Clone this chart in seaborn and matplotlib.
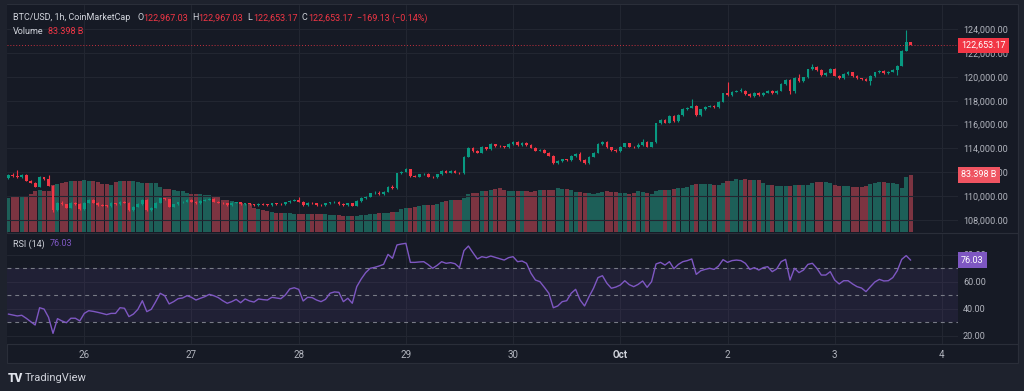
import numpy as np
import pandas as pd
import matplotlib
matplotlib.use("Agg")
import matplotlib.pyplot as plt
import seaborn as sns
from matplotlib.patches import Rectangle
from matplotlib.lines import Line2D
from matplotlib.transforms import blended_transform_factory

# ---- data (BTC/USD 1h, CoinMarketCap) ----
start_time = "2025-09-25 07:00"
first_open = 111500

closes = [
    111780, 111700, 111580, 111775, 111300, 111132, 110796, 111580, 111412, 110880,
    108839, 109454, 109314, 109034, 109454, 109342, 108923, 109454, 109678, 109454,
    109258, 109202, 109180, 109398, 109314, 109538, 109454, 108839, 109118, 109342,
    109678, 108839, 109034, 109454, 109818, 109734, 109118, 109314, 109482, 109538,
    109678, 109538, 109398, 109622, 109700, 109750, 109538, 109454, 109398, 109258,
    109454, 109482, 109342,
    109397, 109313, 109229, 109341, 109300, 109257, 109397, 109341, 109313, 109481,
    109621, 109677, 109537, 109257, 109453, 109397, 109257, 109230, 109397, 109481,
    109500, 109341, 109257, 109397, 109201, 109593, 109817, 109957, 110237, 110293,
    110180, 110377, 110796, 110656, 111915, 112055, 112250, 111691, 111635, 111831,
    111859, 111635, 111579, 111831, 112138, 111971, 112110, 111971, 111915, 113313,
    114069,
    113788, 113648, 114096, 113956, 114347, 114208, 114180, 114096, 114375, 114571,
    114292, 114487, 114292, 114068, 113816, 113900, 113648, 113397, 112753, 112949,
    113089, 113033, 113369, 113536, 113033, 112753, 113313, 113648, 114375, 114571,
    114096, 113872, 113800, 114152, 114431, 114152, 114096, 114292, 114571, 114152,
    114515, 116110, 116389, 116166, 116725, 116306, 116809, 117312, 117424, 117592,
    116809, 117284, 117508, 117592,
    117452, 117928, 118626, 118487, 118766, 118822, 118850, 118571, 118403, 118682,
    118487, 118682, 118850, 118626, 118850, 119410, 119745, 118822, 119941, 119661,
    119969, 120640, 120864, 120584, 120165, 120361, 120668, 120109, 119885, 120249,
    120388, 120081, 119885, 119829, 119689, 120081, 120388, 120528, 120305, 120444,
    120584, 120948, 122207, 122967.03, 122653.17,
]

upper_wick = [
    60, 200, 500, 80, 60, 60, 60, 80, 60, 330,
    80, 60, 150, 60, 80, 60, 60, 60, 80, 60,
    60, 60, 60, 80, 60, 60, 60, 60, 60, 60,
    80, 60, 60, 60, 60, 60, 60, 60, 60, 60,
    60, 60, 60, 60, 60, 60, 60, 60, 60, 60,
    60, 60, 60, 60, 60, 60, 60, 60, 60, 60,
    60, 60, 60, 60, 60, 280, 60, 60, 60, 60,
    60, 60, 60, 60, 60, 60, 60, 60, 60, 80,
    60, 60, 150, 120, 60, 80, 100, 60, 80, 80,
    60, 60, 60, 60, 60, 60, 60, 60, 60, 60,
    60, 60, 60, 80, 80, 80, 80, 60, 80, 60,
    60, 60, 60, 60, 60, 60, 60, 60, 60, 60,
    60, 60, 60, 60, 60, 60, 60, 60, 200, 60,
    60, 60, 60, 60, 60, 60, 60, 60, 60, 60,
    60, 150, 200, 60, 60, 60, 60, 60, 60, 60,
    60, 60, 60, 530, 80, 60, 60, 60, 60, 60,
    60, 920, 60, 60, 200, 80, 60, 60, 60, 60,
    60, 60, 60, 60, 80, 60, 60, 270, 60, 60,
    200, 60, 60, 60, 60, 60, 60, 60, 80, 60,
    60, 60, 60, 60, 60, 60, 60, 60, 100, 60,
    80, 975, 0,
]

lower_wick = [
    60, 60, 60, 60, 60, 60, 60, 60, 60, 60,
    150, 60, 60, 60, 60, 60, 60, 60, 60, 60,
    60, 60, 60, 60, 60, 60, 60, 60, 60, 60,
    60, 60, 60, 60, 60, 60, 60, 60, 60, 60,
    60, 60, 60, 60, 60, 60, 60, 60, 60, 60,
    60, 60, 60, 60, 60, 60, 60, 60, 60, 60,
    60, 60, 60, 60, 60, 60, 60, 60, 60, 60,
    60, 60, 60, 60, 60, 60, 60, 60, 60, 60,
    60, 60, 60, 60, 60, 60, 60, 60, 60, 60,
    60, 60, 60, 60, 60, 60, 60, 60, 60, 60,
    60, 60, 60, 60, 60, 60, 60, 60, 60, 60,
    60, 60, 60, 60, 60, 60, 60, 60, 60, 60,
    60, 60, 80, 60, 60, 60, 60, 60, 60, 60,
    60, 60, 60, 60, 60, 60, 60, 60, 60, 60,
    60, 60, 60, 60, 60, 60, 60, 60, 60, 60,
    60, 60, 60, 60, 80, 60, 60, 60, 60, 60,
    60, 60, 60, 60, 60, 60, 60, 60, 60, 60,
    60, 60, 60, 60, 60, 250, 200, 60, 60, 60,
    60, 100, 60, 60, 60, 60, 60, 60, 60, 60,
    60, 60, 60, 360, 60, 60, 60, 60, 60, 420,
    60, 60, 0,
]

volume_b = [
    50.4, 51.4, 53.4, 53.4, 53.4, 54.9, 59.8, 60.8, 59.8, 59.8,
    68.6, 69.6, 72.1, 73.5, 74.0, 74.0, 74.5, 76.0, 75.0, 74.0,
    73.0, 70.6, 69.6, 68.6, 73.0, 74.0, 74.0, 74.0, 74.0, 73.0,
    72.1, 72.1, 71.1, 71.1, 65.2, 62.7, 62.2, 60.8, 60.3, 59.8,
    57.3, 56.3, 55.3, 54.9, 53.9, 53.9, 52.4, 50.9, 46.5, 46.5,
    45.5, 44.0, 42.5,
    41.6, 41.6, 35.7, 34.2, 32.7, 30.8, 29.3, 28.3, 27.8, 27.8,
    27.8, 26.8, 26.8, 26.8, 25.8, 25.8, 25.8, 25.8, 25.8, 24.8,
    24.8, 24.4, 23.4, 23.9, 23.4, 22.9, 24.4, 25.3, 25.8, 26.8,
    27.3, 27.8, 27.8, 29.3, 29.3, 33.7, 34.7, 35.7, 36.7, 37.6,
    39.1, 40.1, 40.1, 41.6, 43.5, 46.0, 46.5, 46.5, 47.5, 50.4,
    56.3,
    57.3, 57.3, 59.3, 60.3, 61.3, 62.7, 63.7, 61.3, 60.3, 60.3,
    60.3, 60.3, 59.8, 58.8, 60.3, 61.8, 61.3, 61.3, 61.8, 63.7,
    62.7, 62.2, 60.8, 58.3, 58.3, 57.3, 57.3, 56.3, 57.3, 57.8,
    59.8, 58.8, 58.8, 57.3, 56.8, 56.3, 57.3, 59.3, 58.3, 57.3,
    56.3, 59.8, 61.8, 61.3, 61.8, 62.2, 63.7, 63.7, 66.2, 69.1,
    70.1, 70.1, 70.6, 70.6,
    69.1, 69.1, 71.1, 75.0, 75.0, 77.0, 76.0, 77.0, 76.0, 76.0,
    76.0, 71.1, 68.6, 68.1, 67.2, 66.7, 66.7, 67.2, 68.1, 69.1,
    68.1, 68.1, 71.6, 72.6, 72.6, 73.6, 71.1, 68.6, 67.6, 66.7,
    66.7, 65.7, 65.7, 65.7, 67.6, 70.1, 71.6, 72.6, 73.1, 71.6,
    71.1, 70.1, 64.7, 80.9, 83.398,
]

rsi_values = [
    36.1, 35.4, 34.7, 35.2, 33.0, 30.5, 28.0, 40.8, 39.8, 33.7,
    21.8, 32.7, 31.0, 29.7, 33.0, 33.0, 31.0, 36.6, 38.6, 38.1,
    37.4, 36.6, 35.7, 36.6, 36.6, 40.8, 40.4, 34.2, 36.1, 39.6,
    46.0, 37.9, 39.6, 45.3, 51.5, 49.7, 43.6, 45.3, 47.5, 48.0,
    49.7, 48.5, 46.5, 47.8, 49.0, 50.7, 49.7, 48.3, 46.0, 44.1,
    45.3, 47.0, 44.5, 47.3, 45.8, 45.0, 47.3, 46.8, 46.5, 48.5,
    48.0, 47.5, 50.2, 54.7, 55.6, 54.4, 45.8, 48.5, 48.3, 46.5,
    45.3, 47.0, 51.5, 52.5, 52.2, 45.3, 47.8, 44.1, 56.4, 62.1,
    66.8, 70.0, 70.7, 71.7, 72.9, 80.3, 77.4, 87.3, 88.0, 88.5,
    74.4, 74.4, 74.7, 74.9, 72.7, 70.0, 72.2, 74.9, 73.7, 74.2,
    73.4, 70.5, 83.1, 86.5, 81.6, 76.9, 78.6, 77.9, 79.1, 78.1,
    77.1, 76.1, 77.9, 78.6, 74.9, 75.4, 73.7, 66.3, 61.3, 60.1,
    55.9, 51.5, 40.8, 42.1, 45.3, 46.0, 51.5, 54.4, 46.5, 42.1,
    49.0, 55.2, 63.1, 64.5, 58.9, 55.2, 56.1, 57.6, 60.8, 57.9,
    56.4, 58.1, 60.6, 55.9, 60.1, 73.2, 74.4, 72.4, 74.9, 69.7,
    72.9, 74.9, 75.7, 76.9, 65.5, 68.2, 69.2, 70.0, 69.2, 71.7,
    76.4, 74.4, 75.7, 76.1, 75.7, 73.7, 69.2, 70.5, 68.7, 70.5,
    71.2, 67.5, 69.5, 74.9, 76.6, 61.3, 70.0, 66.8, 68.7, 72.9,
    73.7, 70.0, 65.0, 65.0, 67.5, 61.3, 58.4, 60.8, 60.8, 58.4,
    56.4, 55.4, 52.7, 56.4, 59.9, 61.8, 60.6, 60.8, 63.1, 68.2,
    76.6, 79.4, 76.03,
]

price_ticks = [108000, 110000, 112000, 114000, 116000, 118000, 120000, 122000, 124000]
rsi_ticks = [20, 40, 60, 80]
rsi_levels = [70, 50, 30]
day_dates = pd.date_range("2025-09-26", "2025-10-04", freq="D")

# ---- colours ----
BG = "#161a25"
OUTER = "#1e222d"
GRID = "#222631"
SEP = "#2a2e39"
TXT = "#b2b5be"
TITLE = "#d1d4dc"
UP = "#089981"
DOWN = "#f23645"
VOL_UP = "#1d5f58"
VOL_DOWN = "#7c3441"
RSI_C = "#7e57c2"

sns.set_theme(style="dark", rc={"axes.facecolor": BG, "figure.facecolor": OUTER,
                                "axes.edgecolor": BG, "text.color": TXT})
plt.rcParams["font.family"] = ["Roboto", "DejaVu Sans"]
FS = 6.5

n = len(closes)
times = pd.date_range(start_time, periods=n, freq="h")
opens = [first_open] + closes[:-1]
df = pd.DataFrame({"x": np.arange(n), "open": opens, "close": closes,
                   "volume": volume_b, "rsi": rsi_values})
df["up"] = df["close"] >= df["open"]
df["direction"] = np.where(df["up"], "up", "down")
df["high"] = df[["open", "close"]].max(axis=1) + np.array(upper_wick)
df["low"] = df[["open", "close"]].min(axis=1) - np.array(lower_wick)

day_pos = (day_dates - times[0]) / pd.Timedelta(hours=1)
day_labels = ["Oct" if d.day == 1 else str(d.day) for d in day_dates]

W, H = 1024, 391
def fx(px): return px / W
def fy(py): return 1 - py / H

fig = plt.figure(figsize=(W / 100, H / 100), dpi=100)
fig.add_artist(Rectangle((fx(7), fy(363)), fx(1018) - fx(7), fy(4) - fy(363),
                         transform=fig.transFigure, facecolor=BG, edgecolor=SEP,
                         lw=0.8, zorder=-5))

x_lo, x_hi = -0.3, 212.6
left, width = fx(7), fx(958) - fx(7)

# ---- main pane: volume underneath, candles on top ----
ax_vol = fig.add_axes([left, fy(232), width, fy(5) - fy(232)])
sns.barplot(data=df, x="x", y="volume", hue="direction",
            palette={"up": VOL_UP, "down": VOL_DOWN}, native_scale=True,
            dodge=False, width=0.9, saturation=1, errorbar=None, legend=False,
            linewidth=0, ax=ax_vol)
ax_vol.set_ylim(0, 83.398 * 227 / 57)
ax_vol.set_xlabel("")
ax_vol.set_ylabel("")
ax_vol.set_yticks([])
ax_vol.set_xticks(day_pos)
ax_vol.tick_params(axis="x", length=0, labelbottom=False)
ax_vol.grid(axis="x", color=GRID, lw=0.8)
for s in ax_vol.spines.values():
    s.set_visible(False)

ax_p = ax_vol.twinx()
ax_p.patch.set_visible(False)
colors = np.where(df["up"], UP, DOWN)
ax_p.vlines(df["x"], df["low"], df["high"], colors=colors, lw=0.8)
body_h = np.maximum((df["close"] - df["open"]).abs(), 70)
body_b = df[["open", "close"]].min(axis=1)
ax_p.bar(df["x"], body_h, bottom=body_b, width=0.62, color=colors, linewidth=0)
ax_p.set_ylim(124000 - (232 - 29.3) * 83.9, 124000 + (29.3 - 5) * 83.9)
ax_p.set_xlim(x_lo, x_hi)
ax_p.set_yticks(price_ticks)
ax_p.set_yticklabels([f"{v:,.2f}" for v in price_ticks])
ax_p.tick_params(axis="y", length=0, pad=3.6, labelsize=FS, labelcolor=TXT)
ax_p.grid(axis="y", color=GRID, lw=0.8)
ax_p.grid(axis="x", visible=False)
for s in ax_p.spines.values():
    s.set_visible(False)
last = closes[-1]
ax_p.axhline(last, color=DOWN, lw=0.7, ls=(0, (1, 2)), alpha=0.8)
ax_p.annotate(f"{last:,.2f}", xy=(1, last), xycoords=ax_p.get_yaxis_transform(),
              xytext=(2.2, 0), textcoords="offset points", ha="left", va="center",
              color="white", fontsize=FS, zorder=10, annotation_clip=False,
              bbox=dict(boxstyle="square,pad=0.35", fc=DOWN, ec="none"))
ax_p.annotate("83.398 B", xy=(1, volume_b[-1]),
              xycoords=blended_transform_factory(ax_p.transAxes, ax_vol.transData),
              xytext=(2.2, 0), textcoords="offset points", ha="left", va="center",
              color="white", fontsize=FS, zorder=10, annotation_clip=False,
              bbox=dict(boxstyle="square,pad=0.35", fc="#ef5461", ec="none"))
ax_vol.set_xlim(x_lo, x_hi)

# ---- RSI pane ----
ax_r = fig.add_axes([left, fy(344), width, fy(234) - fy(344)])
ax_r.axhspan(30, 70, color=RSI_C, alpha=0.1, lw=0)
for lvl in rsi_levels:
    ax_r.axhline(lvl, color="#787b86", lw=0.8, ls=(0, (3.5, 3.5)))
sns.lineplot(data=df, x="x", y="rsi", color=RSI_C, linewidth=1.0, ax=ax_r)
ax_r.set_xlabel("")
ax_r.set_ylabel("")
ax_r.set_xlim(x_lo, x_hi)
ax_r.set_ylim(70 - (344 - 268.3) / 1.35, 70 - (234 - 268.3) / 1.35)
ax_r.yaxis.tick_right()
ax_r.set_yticks(rsi_ticks)
ax_r.set_yticklabels([f"{v:.2f}" for v in rsi_ticks])
ax_r.set_xticks(day_pos)
ax_r.set_xticklabels(day_labels)
ax_r.tick_params(axis="both", length=0, labelsize=FS, labelcolor=TXT)
ax_r.tick_params(axis="y", pad=3.6)
ax_r.tick_params(axis="x", pad=4.5, labelsize=7)
for lab in ax_r.get_xticklabels():
    if lab.get_text() == "Oct":
        lab.set_fontweight("bold")
        lab.set_color(TITLE)
ax_r.grid(color=GRID, lw=0.8)
for s in ax_r.spines.values():
    s.set_visible(False)
ax_r.annotate(f"{rsi_values[-1]:.2f}", xy=(1, rsi_values[-1]),
              xycoords=ax_r.get_yaxis_transform(), xytext=(2.2, 0),
              textcoords="offset points", ha="left", va="center", color="white",
              fontsize=FS, zorder=10, annotation_clip=False,
              bbox=dict(boxstyle="square,pad=0.35", fc=RSI_C, ec="none"))

# pane separators
for py in (233, 344):
    fig.add_artist(Line2D([fx(7), fx(1018)], [fy(py), fy(py)], color=SEP, lw=0.8,
                          transform=fig.transFigure))

# ---- legend texts ----
def ftxt(px, py, s, color, size=FS, **kw):
    fig.text(fx(px), fy(py), s, color=color, fontsize=size, va="center", ha="left", **kw)

ftxt(13, 18, "BTC/USD, 1h, CoinMarketCap", TITLE)
for px, key, val in [(137, "O", "122,967.03"), (192, "H", "122,967.03"),
                     (247, "L", "122,653.17"), (302, "C", "122,653.17")]:
    ftxt(px, 18, key, TITLE)
    ftxt(px + 6, 18, val, DOWN)
ftxt(357, 18, "\u2212169.13 (\u22120.14%)", DOWN)
ftxt(13, 32, "Volume", TITLE)
ftxt(48, 32, "83.398 B", DOWN)
ftxt(13, 244, "RSI (14)", TITLE)
ftxt(50, 244, "76.03", RSI_C)

ftxt(8, 378, "TV", "#e0e3eb", size=8.5, fontweight="heavy")
ftxt(25, 378, "TradingView", TITLE, size=8)

fig.savefig("out.png", dpi=100, facecolor=OUTER)
